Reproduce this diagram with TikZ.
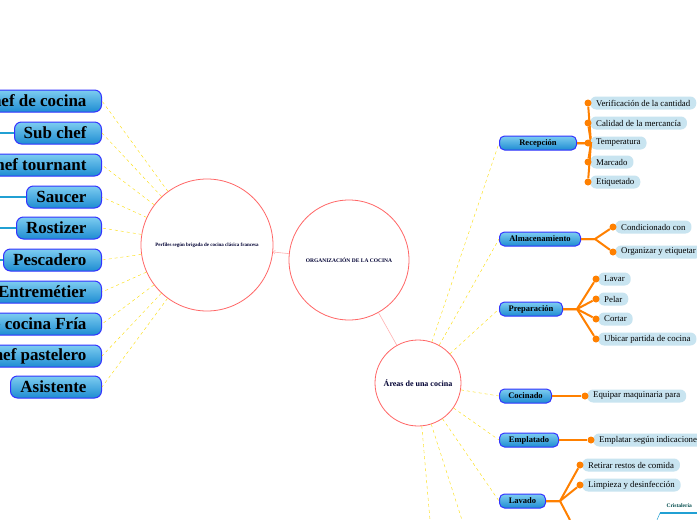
\documentclass[tikz,border=0pt]{standalone}
\usepackage{fontspec}
\setmainfont{Liberation Serif}
\definecolor{bt}{RGB}{125,205,240}
\definecolor{bb}{RGB}{30,140,210}
\definecolor{pl}{RGB}{200,228,240}
\begin{document}
\begin{tikzpicture}[x=1pt,y=-1pt,
 circ/.style={circle,draw=red!60!white,line width=0.8pt,fill=white,inner sep=0pt},
 big/.style={draw=blue!80!white,line width=1pt,rounded corners=7pt,top color=bt,bottom color=bb,minimum height=22pt,inner sep=2pt},
 mid/.style={draw=blue!80!white,line width=1pt,rounded corners=5pt,top color=bt,bottom color=bb,font=\bfseries\fontsize{8.5}{8.5}\selectfont,minimum height=14pt,inner sep=2pt},
 pill/.style={fill=pl,rounded corners=6pt,font=\fontsize{8.8}{8.8}\selectfont,minimum height=13pt,inner xsep=6pt,inner ysep=2pt,anchor=west},
 dot/.style={circle,fill=orange,inner sep=0pt,minimum size=7pt},
 ol/.style={orange,line width=2pt},
 yl/.style={yellow!80!orange,dashed,line width=0.4pt},
 pk/.style={red!30,line width=0.6pt}]
\useasboundingbox (0,0) rectangle (697,520);
\fill[white] (0,0) rectangle (697,520);
% circles
\node[circ,minimum size=132pt] (per) at (207,245) {};
\node[font=\bfseries\fontsize{5}{5}\selectfont,text=blue!20!black] at (207,245) {Perfiles según brigada de cocina clásica francesa};
\node[circ,minimum size=120pt] (org) at (349,260) {};
\node[font=\bfseries\fontsize{5.5}{5.5}\selectfont,text=blue!20!black] at (349,260) {ORGANIZACIÓN DE LA COCINA};
\node[circ,minimum size=86pt] (ar) at (418,383) {};
\node[font=\bfseries\fontsize{8}{8}\selectfont,text=blue!20!black] at (418,383) {Áreas de una cocina};
\draw[pk,->] (org) -- (per);
\draw[pk] (org) -- (ar);
% left nodes
\foreach \n/\t/\y/\w in {a/Chef de cocina/101/130,b/Sub chef/133/87,c/Chef tournant/165/115,d/Saucer/197/75,e/Rostizer/228/85,f/Pescadero/260/98,g/Entremétier/292/112,h/Jefe de cocina Fría/324/160,i/Chef pastelero/356/130,j/Asistente/387/91}{
 \node[big,minimum width=\w pt,anchor=east] (\n) at (102,\y) {};
 \node[font=\bfseries\fontsize{17}{17}\selectfont,anchor=east] at (90,\y) {\t};
 \draw[yl] (per) -- (\n.east);
}
\foreach \n in {b,d,e,f}{\draw[cyan!70!teal,line width=2pt] (0,0|-\n.west) -- (\n.west);}
% right nodes
\foreach \n/\t/\y/\w in {rec/Recepción/143/77,alm/Almacenamiento/239/81,pre/Preparación/309/63,coc/Cocinado/396/52,emp/Emplatado/440/59,lav/Lavado/501/46}{
 \node[mid,minimum width=\w pt,anchor=west] (\n) at (499,\y) {\t};
 \draw[yl] (ar) -- (\n.west);
}
\coordinate (b1) at (430,520); \coordinate (b2) at (462,520);
\draw[yl] (ar) -- (b1); \draw[yl] (ar) -- (b2);
% leaves
\newcommand\leaf[5]{% parent, dotx, y, text, name
 \node[pill] (#5) at (#2+2,#3) {#4};
 \node[dot] (#5d) at (#2,#3) {};
 \draw[ol] (#1.east) -- ++(14,0) -- (#5d);
}
\leaf{rec}{588}{103}{Verificación de la cantidad}{r1}
\leaf{rec}{588}{123}{Calidad de la mercancía}{r2}
\leaf{rec}{588}{143}{Temperatura}{r3}
\leaf{rec}{588}{162}{Marcado}{r4}
\leaf{rec}{588}{182}{Etiquetado}{r5}
\leaf{alm}{613}{227}{Condicionado con}{a1}
\leaf{alm}{613}{252}{Organizar y etiquetar}{a2}
\leaf{pre}{596}{279}{Lavar}{p1}
\leaf{pre}{596}{299}{Pelar}{p2}
\leaf{pre}{596}{319}{Cortar}{p3}
\leaf{pre}{596}{339}{Ubicar partida de cocina}{p4}
\leaf{coc}{585}{396}{Equipar maquinaria para}{c1}
\leaf{emp}{591}{440}{Emplatar según indicaciones}{e1}
\leaf{lav}{580}{465}{Retirar restos de comida}{l1}
\leaf{lav}{580}{485}{Limpieza y desinfección}{l2}
\coordinate (l3) at (570,520);
\draw[ol] (lav.east) -- ++(14,0) -- (l3);
\node[font=\bfseries\fontsize{5.5}{5.5}\selectfont,text=teal!60!black,anchor=west] (cr) at (663,506) {Cristalería};
\coordinate (crl) at (660,513);
\draw[cyan!70!teal,line width=2.5pt] (crl) -- (697,513);
\draw[cyan!70!teal,line width=0.5pt] (crl) -- (657,520);
\end{tikzpicture}
\end{document}
